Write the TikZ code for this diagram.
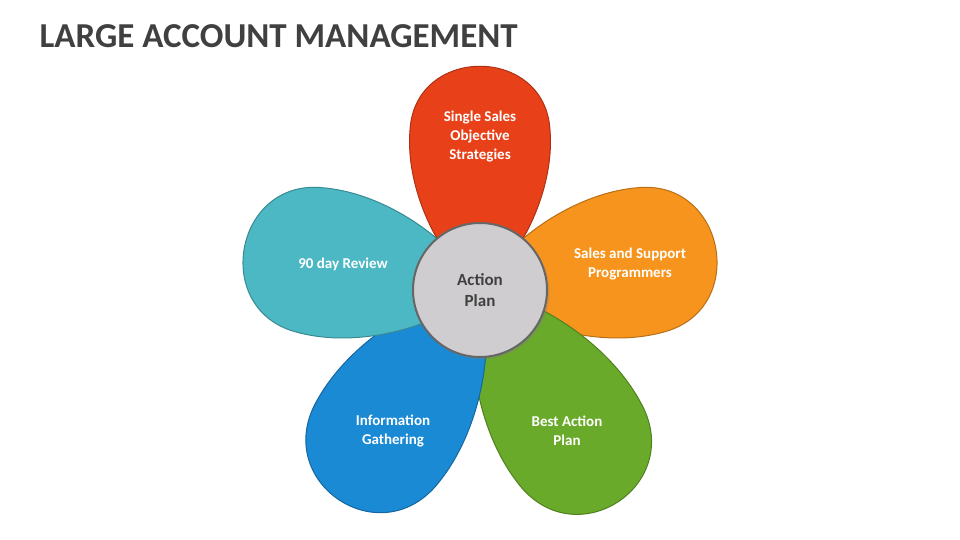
\documentclass[tikz,border=0pt]{standalone}
\usepackage{fontspec}
\setmainfont{Carlito}
\usetikzlibrary{shadows}
\definecolor{cred}{HTML}{E8411A}
\definecolor{corange}{HTML}{F7941D}
\definecolor{cgreen}{HTML}{6AAA2A}
\definecolor{cblue}{HTML}{1A8AD4}
\definecolor{cteal}{HTML}{4BB8C4}
\definecolor{ccirc}{HTML}{D0CDD0}
\definecolor{ctitle}{HTML}{404040}
\tikzset{
  petal/.pic={\path[pic actions] (0,0) .. controls (-40,30) and (-75,100) .. (-70,160) .. controls (-65,245) and (65,245) .. (70,160) .. controls (75,100) and (40,30) .. (0,0) -- cycle;},
  ptext/.style={text=white,font=\bfseries\fontsize{15}{19}\selectfont,align=center},
}
\begin{document}
\begin{tikzpicture}[x=1pt,y=1pt]
\useasboundingbox (0,0) rectangle (960,-540);
\node[anchor=west,text=ctitle,font=\bfseries\fontsize{35}{40}\selectfont] (title) at (36,-36) {LARGE ACCOUNT MANAGEMENT};
\coordinate (c) at (480,-290);
\pic[fill=cred,draw=cred!75!black,line width=1pt] at (c) {petal};
\pic[rotate=-80,xscale=1.05,yscale=1.07,fill=corange,draw=corange!75!black,line width=1pt] at (c) {petal};
\pic[rotate=-147,xscale=1.05,yscale=1.13,fill=cgreen,draw=cgreen!75!black,line width=1pt] at (c) {petal};
\pic[rotate=146,xscale=1.05,yscale=1.13,fill=cblue,draw=cblue!75!black,line width=1pt] at (c) {petal};
\pic[rotate=80,xscale=1.05,yscale=1.07,fill=cteal,draw=cteal!75!black,line width=1pt] at (c) {petal};
\node[circle,minimum size=134pt,fill=ccirc,draw=gray!80!black,line width=2pt,drop shadow={opacity=0.3},font=\bfseries\fontsize{17}{21}\selectfont,text=ctitle,align=center] (hub) at (c) {Action\\Plan};
\node[ptext] (t1) at (480,-137) {Single Sales\\Objective\\Strategies};
\node[ptext] (t2) at (630,-264) {Sales and Support\\Programmers};
\node[ptext] (t3) at (567,-431) {Best Action\\Plan};
\node[ptext] (t4) at (393,-431) {Information\\Gathering};
\node[ptext] (t5) at (343,-264) {90 day Review};
\end{tikzpicture}
\end{document}
